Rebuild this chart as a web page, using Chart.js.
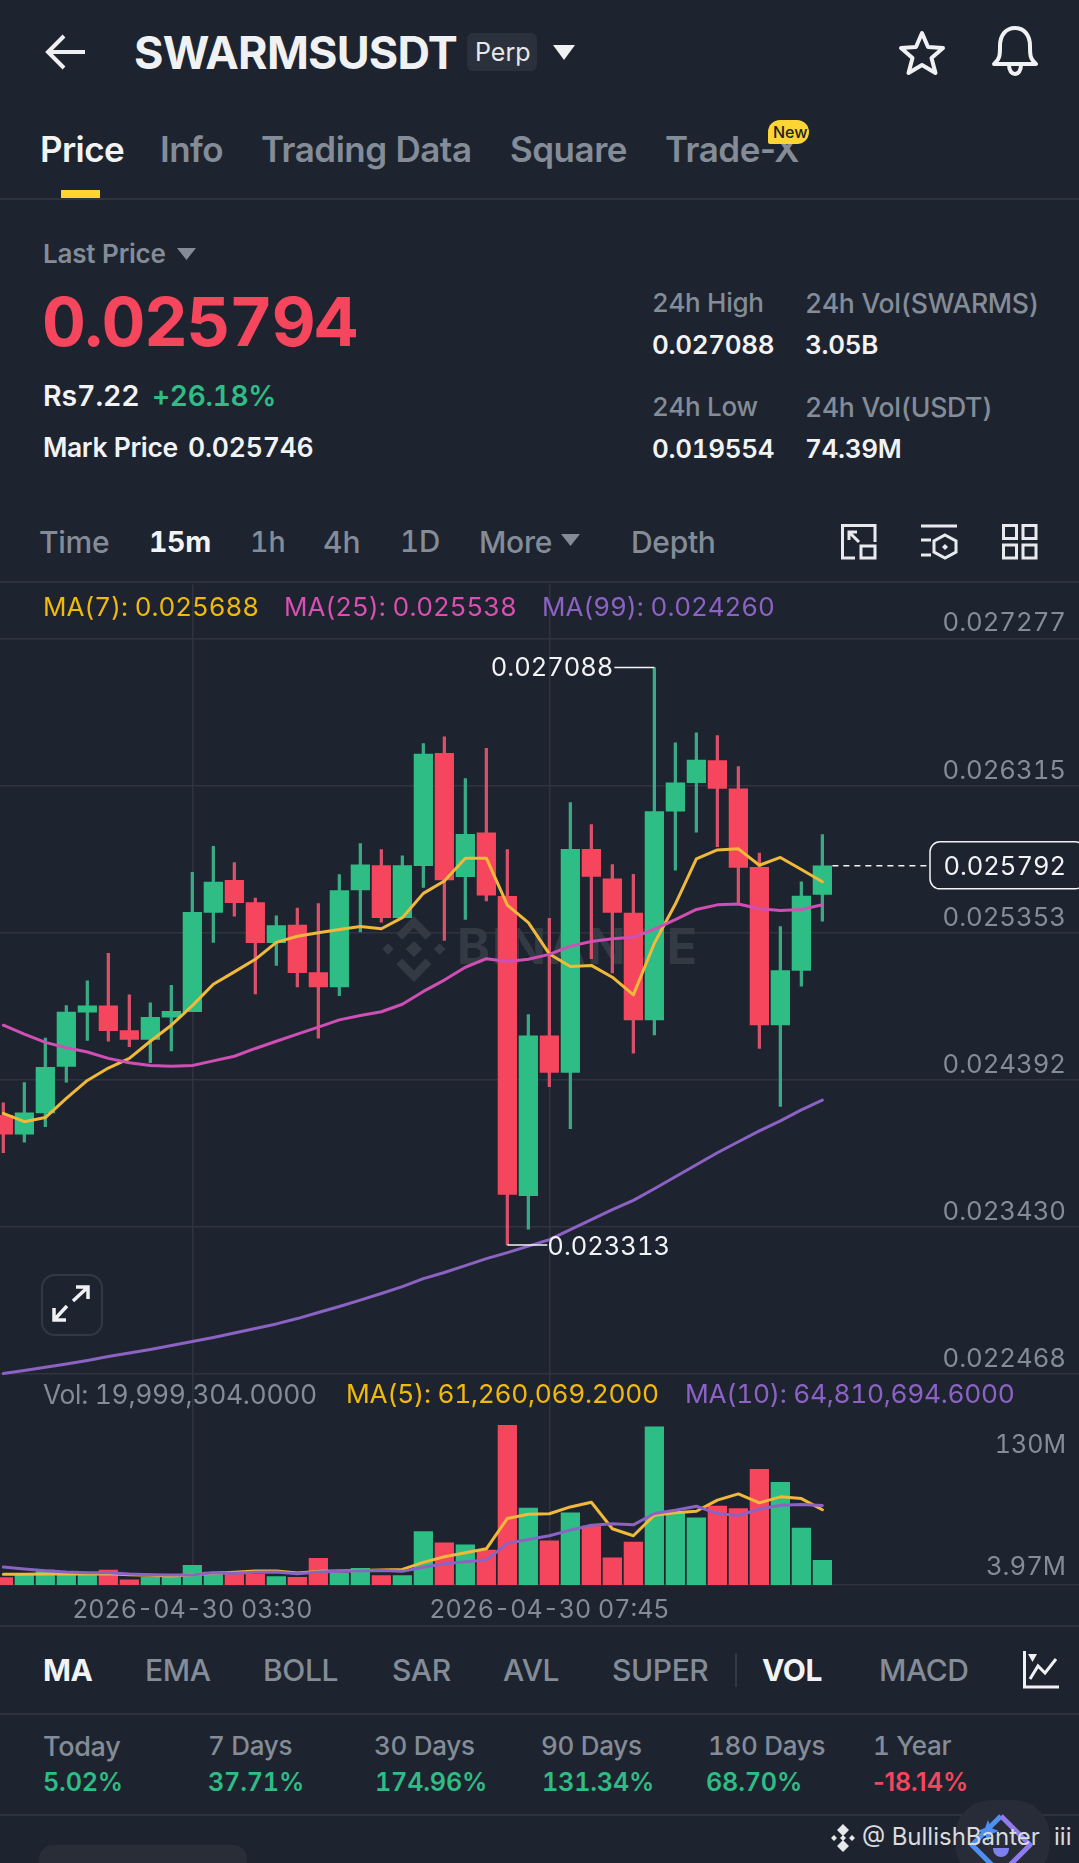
<!DOCTYPE html>
<html><head><meta charset="utf-8">
<script src="https://cdn.jsdelivr.net/npm/chart.js@4"></script>
<style>
html,body{margin:0;padding:0;background:#1e242f;}
body{width:1079px;height:1863px;position:relative;overflow:hidden;font-family:Inter,"Noto Sans",sans-serif;color:#fff;font-variant-numeric:tabular-nums;}
.t{position:absolute;white-space:nowrap;transform:translateY(-50%);line-height:1;}
.g{color:#848c98}.w{color:#f2f3f5}.m{font-weight:500}.b{font-weight:700}.sb{font-weight:600}
.up{color:#2ebd85}.dn{color:#f6465d}
.hl{position:absolute;left:0;width:1079px;height:1.5px;background:#2e333d;}
canvas{position:absolute;left:0;top:582px;}
svg{position:absolute;overflow:visible}
</style></head><body>

<svg style="left:45px;top:34px" width="42" height="36" fill="none" stroke="#eef0f2" stroke-width="4"><path d="M40 18H3M19 2L3 18l16 16"/></svg>
<div class="t b" style="left:134px;top:52px;font-size:45px;letter-spacing:-.8px;color:#f0f1f3">SWARMSUSDT</div>
<div style="position:absolute;left:467px;top:33px;width:70px;height:38px;background:#2b313c;border-radius:6px"></div>
<div class="t" style="left:475px;top:52px;font-size:25px;color:#e6e8ea">Perp</div>
<svg style="left:553px;top:45px" width="22" height="15"><path d="M0 0H22L11 15Z" fill="#f0f1f3"/></svg>
<svg style="left:899px;top:30px" width="46" height="46" fill="none" stroke="#f0f1f3" stroke-width="4" stroke-linejoin="round"><path d="M23 3l6 14 15 1-11.5 10 4 15L23 35 9.500 43l4-15L2 18l15-1z"/></svg>
<svg style="left:992px;top:25px" width="46" height="52" fill="none" stroke="#f0f1f3" stroke-width="4" stroke-linejoin="round"><path d="M2 39c6-5 6-9 6-18C8 10 14 3 23 3s15 7 15 18c0 9 0 13 6 18zM17 40c0 12 12 12 12 0"/></svg>

<div class="t sb w" style="left:40px;top:149px;font-size:35px;letter-spacing:-.6px">Price</div>
<div class="t sb g" style="left:160px;top:149px;font-size:35px;letter-spacing:-.5px">Info</div>
<div class="t sb g" style="left:261px;top:149px;font-size:35px;letter-spacing:-.5px">Trading Data</div>
<div class="t sb g" style="left:510px;top:149px;font-size:35px;letter-spacing:-.5px">Square</div>
<div class="t sb g" style="left:665px;top:149px;font-size:35px;letter-spacing:-.5px;font-variant-numeric:normal">Trade-X</div>
<div style="position:absolute;left:768px;top:120px;width:41px;height:24px;background:#fcd535;border-radius:12px 12px 12px 2px"></div>
<div class="t m" style="left:773px;top:132px;font-size:16px;color:#1e2329">New</div>
<div style="position:absolute;left:61px;top:190px;width:39px;height:8px;background:#fcd535"></div>
<div class="hl" style="top:198px"></div>

<div class="t sb g" style="left:43px;top:254px;font-size:26px;letter-spacing:-.2px">Last Price</div>
<svg style="left:177px;top:248px" width="19" height="12"><path d="M0 0H19L9.500 12Z" fill="#848c98"/></svg>
<div class="t b dn" style="left:42px;top:321px;font-size:68px;letter-spacing:-1.4px">0.025794</div>
<div class="t sb w" style="left:43px;top:396px;font-size:28.500px;letter-spacing:-.1px">Rs7.22</div>
<div class="t sb up" style="left:152px;top:396px;font-size:28px;letter-spacing:-.3px">+26.18%</div>
<div class="t sb w" style="left:43px;top:447px;font-size:26.500px;letter-spacing:-.4px">Mark Price</div>
<div class="t sb w" style="left:188px;top:447px;font-size:26.500px;letter-spacing:-.2px">0.025746</div>

<div class="t m g" style="left:652px;top:303px;font-size:26px;letter-spacing:-.3px">24h High</div>
<div class="t m g" style="left:805px;top:303px;font-size:26.600px;letter-spacing:-.3px">24h Vol(SWARMS)</div>
<div class="t sb w" style="left:652px;top:345px;font-size:26px;letter-spacing:-.3px">0.027088</div>
<div class="t sb w" style="left:805px;top:345px;font-size:26px;letter-spacing:-.3px">3.05B</div>
<div class="t m g" style="left:652px;top:407px;font-size:26px;letter-spacing:-.3px">24h Low</div>
<div class="t m g" style="left:805px;top:407px;font-size:26.600px;letter-spacing:-.3px">24h Vol(USDT)</div>
<div class="t sb w" style="left:652px;top:449px;font-size:26px;letter-spacing:-.3px">0.019554</div>
<div class="t sb w" style="left:805px;top:449px;font-size:26px;letter-spacing:-.3px">74.39M</div>

<div class="t m g" style="left:39px;top:542px;font-size:30px;letter-spacing:-.3px">Time</div>
<div class="t b w" style="left:149px;top:542px;font-size:28.500px;letter-spacing:-.3px">15m</div>
<div class="t m g" style="left:250px;top:542px;font-size:28.500px">1h</div>
<div class="t m g" style="left:323px;top:542px;font-size:30px">4h</div>
<div class="t m g" style="left:400px;top:542px;font-size:29.500px">1D</div>
<div class="t m g" style="left:479px;top:542px;font-size:30px;letter-spacing:-.3px">More</div>
<svg style="left:561px;top:534px" width="19" height="12"><path d="M0 0H19L9.500 12Z" fill="#848c98"/></svg>
<div class="t m g" style="left:631px;top:542px;font-size:30px;letter-spacing:-.3px">Depth</div>
<svg style="left:841px;top:524px" width="36" height="36" fill="none" stroke="#e8eaee" stroke-width="3"><path d="M14 34H1.500V1.500H34V18"/><rect x="20" y="22" width="14" height="12"/><path d="M8 8l10 10M8 16V8h8" stroke-width="3"/></svg>
<svg style="left:921px;top:524px" width="37" height="36" fill="none" stroke="#e8eaee" stroke-width="3"><path d="M0 2H36M0 16H10M0 31H10"/><path d="M24 11l11 6v11l-11 6-11-6V17z"/><path d="M24 20l3 3-3 3-3-3z" fill="#e8eaee" stroke="none"/></svg>
<svg style="left:1002px;top:524px" width="36" height="36" fill="none" stroke="#e8eaee" stroke-width="3"><rect x="1.500" y="1.500" width="13" height="13"/><rect x="21" y="1.500" width="13" height="13"/><rect x="1.500" y="21" width="13" height="13"/><rect x="21" y="21" width="13" height="13"/></svg>
<div class="hl" style="top:581px"></div>

<canvas id="c" width="1079" height="1043" style="width:1079px;height:1043px"></canvas>

<div class="t" style="left:43px;top:607px;font-size:26px;letter-spacing:-.1px;color:#f0b90b">MA(7): 0.025688</div>
<div class="t" style="left:284px;top:607px;font-size:26px;letter-spacing:-.1px;color:#d94fb2">MA(25): 0.025538</div>
<div class="t" style="left:542px;top:607px;font-size:26px;letter-spacing:-.1px;color:#8c62c4">MA(99): 0.024260</div>
<div class="t g" style="left:43px;top:1394px;font-size:26.400px;letter-spacing:-.3px">Vol: 19,999,304.0000</div>
<div class="t" style="left:346px;top:1394px;font-size:26.300px;letter-spacing:-.3px;color:#f0b90b">MA(5): 61,260,069.2000</div>
<div class="t" style="left:685px;top:1394px;font-size:26.300px;letter-spacing:-.3px;color:#8c62c4">MA(10): 64,810,694.6000</div>

<div style="position:absolute;left:41px;top:1274px;width:58px;height:58px;border:2px solid #333944;border-radius:14px"></div>
<svg style="left:52px;top:1285px" width="38" height="38" fill="none" stroke="#eef0f2" stroke-width="3.500"><path d="M21 16L36 2M24 2h12v12M15 21L2 35M14 35H2V23"/></svg>

<div class="hl" style="top:1625px"></div>
<div class="t b w" style="left:43px;top:1670px;font-size:30px;letter-spacing:-.4px">MA</div>
<div class="t m g" style="left:145px;top:1670px;font-size:30px;letter-spacing:-.4px">EMA</div>
<div class="t m g" style="left:263px;top:1670px;font-size:30px;letter-spacing:-.4px">BOLL</div>
<div class="t m g" style="left:392px;top:1670px;font-size:30px;letter-spacing:-.4px">SAR</div>
<div class="t m g" style="left:503px;top:1670px;font-size:30px;letter-spacing:-.4px">AVL</div>
<div class="t m g" style="left:612px;top:1670px;font-size:30px;letter-spacing:-.4px">SUPER</div>
<div style="position:absolute;left:735px;top:1653px;width:1.500px;height:34px;background:#333944"></div>
<div class="t b w" style="left:762px;top:1670px;font-size:30px;letter-spacing:-.4px">VOL</div>
<div class="t m g" style="left:879px;top:1670px;font-size:30px;letter-spacing:-.4px">MACD</div>
<svg style="left:1023px;top:1651px" width="37" height="38" fill="none" stroke="#f0f1f3" stroke-width="3"><path d="M1.500 0V36H36M7 28l8-13 7 7 11-14"/><path d="M5 3h9l-4.500 8z" fill="#f0f1f3" stroke="none"/></svg>
<div class="hl" style="top:1713px"></div>

<div class="t m g" style="left:43px;top:1746px;font-size:27px;letter-spacing:-.3px">Today</div>
<div class="t m g" style="left:208px;top:1746px;font-size:26px;letter-spacing:-.3px">7 Days</div>
<div class="t m g" style="left:374px;top:1746px;font-size:26px;letter-spacing:-.3px">30 Days</div>
<div class="t m g" style="left:541px;top:1746px;font-size:26px;letter-spacing:-.3px">90 Days</div>
<div class="t m g" style="left:708px;top:1746px;font-size:26px;letter-spacing:-.3px">180 Days</div>
<div class="t m g" style="left:873px;top:1746px;font-size:26px;letter-spacing:-.3px">1 Year</div>
<div class="t sb up" style="left:43px;top:1783px;font-size:25.200px;letter-spacing:-.2px">5.02%</div>
<div class="t sb up" style="left:208px;top:1783px;font-size:25.200px;letter-spacing:-.2px">37.71%</div>
<div class="t sb up" style="left:375px;top:1783px;font-size:25.200px;letter-spacing:-.2px">174.96%</div>
<div class="t sb up" style="left:542px;top:1783px;font-size:25.200px;letter-spacing:-.2px">131.34%</div>
<div class="t sb up" style="left:706px;top:1783px;font-size:25.200px;letter-spacing:-.2px">68.70%</div>
<div class="t sb dn" style="left:873px;top:1783px;font-size:25.200px;letter-spacing:-.2px;font-variant-numeric:normal">-18.14%</div>
<div class="hl" style="top:1814px"></div>
<div style="position:absolute;left:39px;top:1845px;width:208px;height:30px;background:#282d38;border-radius:14px"></div>

<div style="position:absolute;left:955px;top:1800px;width:95px;height:80px;background:#272c38;border-radius:36px"></div>
<svg style="left:968px;top:1812px" width="66" height="60" fill="none" stroke-width="5" stroke-linejoin="round"><path d="M33 4L4 33l29 29" stroke="#4f8ff0"/><path d="M33 4l29 29-29 29" stroke="#8f7af0"/><path d="M20 8l3 8 8 3-8 3-3 8-3-8-8-3 8-3z" fill="#4f8ff0" stroke="none"/><path d="M25 36h16c0 12-16 12-16 0z" fill="#7f80f0" stroke="none"/></svg>
<svg style="left:829px;top:1824px" width="28" height="28" fill="#e6e8ea"><path d="M14 0l6 6-6 6-6-6zM14 16l6 6-6 6-6-6zM2 14l3-3 3 3-3 3zM20 14l3-3 3 3-3 3z"/><path d="M14 11l3 3-3 3-3-3z"/></svg>
<div class="t" style="left:862px;top:1837px;font-size:24px;color:#d9dbdf">@ BullishBanter</div>
<div class="t" style="left:1054px;top:1837px;font-size:24px;color:#d9dbdf">iii</div>

<script>
// ---- price candles ----
const opens  = [0.024160,0.024037,0.024177,0.024480,0.024836,0.024876,0.024715,0.024657,0.024803,0.024838,0.025488,0.025698,0.025551,0.025290,0.025404,0.025094,0.025001,0.025635,0.025793,0.025453,0.025793,0.026527,0.025721,0.026008,0.025593,0.023636,0.024680,0.024442,0.025900,0.025707,0.025483,0.024785,0.026150,0.026336,0.026480,0.026296,0.025782,0.024752,0.025108,0.025605];
const closes = [0.024037,0.024177,0.024475,0.024836,0.024876,0.024715,0.024657,0.024801,0.024841,0.025488,0.025686,0.025551,0.025290,0.025402,0.025094,0.025001,0.025630,0.025798,0.025453,0.025793,0.026522,0.025700,0.025998,0.025600,0.023643,0.024680,0.024442,0.025900,0.025723,0.025488,0.024785,0.026147,0.026334,0.026483,0.026299,0.025782,0.024752,0.025108,0.025595,0.025792];
const highs  = [0.024242,0.024375,0.024666,0.024878,0.025041,0.025220,0.024948,0.024897,0.025011,0.025749,0.025919,0.025814,0.025581,0.025465,0.025516,0.025546,0.025735,0.025938,0.025898,0.025858,0.026592,0.026636,0.026362,0.026560,0.025898,0.024820,0.025449,0.026206,0.026061,0.025800,0.025737,0.027088,0.026597,0.026662,0.026644,0.026441,0.025875,0.025395,0.025688,0.025996];
const lows   = [0.023916,0.023986,0.024086,0.024377,0.024650,0.024645,0.024610,0.024505,0.024582,0.024838,0.025292,0.025463,0.024955,0.025141,0.025001,0.024666,0.024943,0.025360,0.025423,0.025453,0.025651,0.025304,0.025442,0.025563,0.023313,0.023417,0.024349,0.024074,0.025185,0.025092,0.024568,0.024687,0.025763,0.026012,0.025917,0.025542,0.024598,0.024219,0.025006,0.025430];
// ---- price moving averages ----
const ma7  = [0.024174,0.024119,0.024146,0.024272,0.024389,0.024470,0.024533,0.024645,0.024750,0.024878,0.025018,0.025099,0.025181,0.025292,0.025332,0.025355,0.025376,0.025395,0.025381,0.025453,0.025612,0.025693,0.025842,0.025842,0.025535,0.025421,0.025216,0.025134,0.025141,0.025064,0.024948,0.025286,0.025542,0.025838,0.025896,0.025903,0.025796,0.025847,0.025768,0.025688];
const ma25 = [0.024750,0.024692,0.024638,0.024603,0.024575,0.024533,0.024505,0.024487,0.024482,0.024487,0.024517,0.024547,0.024598,0.024645,0.024692,0.024738,0.024785,0.024813,0.024838,0.024887,0.024971,0.025045,0.025129,0.025185,0.025167,0.025181,0.025213,0.025267,0.025297,0.025316,0.025325,0.025378,0.025441,0.025507,0.025537,0.025542,0.025511,0.025500,0.025507,0.025538];
const ma99 = [0.022473,0.022493,0.022513,0.022535,0.022558,0.022584,0.022607,0.022630,0.022656,0.022682,0.022708,0.022738,0.022767,0.022797,0.022832,0.022872,0.022911,0.022953,0.022996,0.023041,0.023093,0.023133,0.023178,0.023224,0.023263,0.023306,0.023348,0.023413,0.023479,0.023544,0.023605,0.023681,0.023759,0.023838,0.023916,0.023988,0.024059,0.024125,0.024196,0.024260];
// ---- volume (millions) ----
const volumes = [5.96,7.85,12.2,8.9,8.9,12.2,4.3,6.2,6.2,16.0,10.6,8.9,8.9,6.8,6.2,21.7,9.5,13.5,7.6,7.6,43.6,34.4,32.8,28.4,130,62.6,36,58.8,47.9,22.2,34.9,128.9,58.8,54.7,64.2,62.3,94.2,83.7,46.3,20.0];
const volMa5  = [8.67,8.67,8.94,8.94,8.94,9.2,8.4,7.85,7.3,8.4,9.5,10.3,11.4,11.4,9.75,11.1,11.4,11.9,12.2,12.7,18.4,23,26.3,29.5,54.2,57.7,58,63.6,67.4,45.8,40.1,56.9,58.8,60.1,69.1,74.2,66.9,71.8,70.4,61.26];
const volMa10 = [14.6,13,11.6,10.6,10,10,8.9,8.4,8.1,8.1,10,9.5,10.3,10.6,9.2,10.6,11.1,11.6,11.9,11.1,14.4,17.3,19,20.3,33.9,37.1,40.1,44.7,48.7,49.8,49,58.2,60.9,64.2,58.2,56.6,61.7,65,65.5,64.81];
// ---- axes ----
const priceTicks = [0.027277,0.026315,0.025353,0.024392,0.023430,0.022468];
const volTopTick = [130];
const volLowTick = [3.97];
const volTickLabels = {130:'130M',3.97:'3.97M'};
const timeTickIndex = [9,26];
const timeTickLabels = ['2026-04-30 03:30','2026-04-30 07:45'];
const highLabel = 0.027088, highIndex = 31, lowLabel = 0.023313, lowIndex = 24, lastPrice = 0.025792;

const UP='#2ebd85', DN='#f6465d', UPW='#3aa985', DNW='#d9506a', GRID='#2e333d', TICK='#848c98', BG='#1e242f';
const FONT='Inter, "Noto Sans", sans-serif';
const col = (i)=> closes[i]>=opens[i]?UP:DN;
const wcol= (i)=> closes[i]>=opens[i]?UPW:DNW;
const idx = opens.map((_,i)=>i);
const line=(label,arr,axis,color,w)=>({type:'line',label,yAxisID:axis,order:1,data:arr.map((v,i)=>({x:i,y:v})),borderColor:color,borderWidth:w,pointRadius:0,tension:0,borderJoinStyle:'round',borderCapStyle:'round'});
const fixW = s=>{s.width=0};
function drawLogo(ctx,cx,cy,r,color){
  ctx.save();ctx.fillStyle=color;ctx.strokeStyle=color;
  const d=(x,y,s)=>{ctx.beginPath();ctx.moveTo(x,y-s);ctx.lineTo(x+s,y);ctx.lineTo(x,y+s);ctx.lineTo(x-s,y);ctx.closePath();ctx.fill();};
  d(cx,cy,r*.24);d(cx-r*.76,cy,r*.17);d(cx+r*.76,cy,r*.17);
  ctx.lineWidth=r*.24;ctx.lineJoin='miter';
  ctx.beginPath();ctx.moveTo(cx-r*.43,cy-r*.36);ctx.lineTo(cx,cy-r*.8);ctx.lineTo(cx+r*.43,cy-r*.36);ctx.stroke();
  ctx.beginPath();ctx.moveTo(cx-r*.43,cy+r*.36);ctx.lineTo(cx,cy+r*.8);ctx.lineTo(cx+r*.43,cy+r*.36);ctx.stroke();
  ctx.restore();
}
const overlay={id:'overlay',
  beforeDatasetsDraw(c){
    const {ctx,scales:{x,y}}=c;
    const py=y.getPixelForValue(0.025248), px=x.getPixelForValue(19.55);
    drawLogo(ctx,px,py,34,'#343a44');
    ctx.save();ctx.fillStyle='#343a44';ctx.font='700 50px '+FONT;ctx.textBaseline='middle';ctx.letterSpacing='2px';
    ctx.fillText('BINANCE',457,py);ctx.restore();
  },
  afterDatasetsDraw(c){
    const {ctx,scales:{x,y}}=c;
    ctx.save();ctx.font='25.5px '+FONT;ctx.fillStyle='#f2f3f5';ctx.strokeStyle='#f2f3f5';ctx.lineWidth=1.5;ctx.textBaseline='middle';
    const hy=y.getPixelForValue(highLabel),hx=x.getPixelForValue(highIndex);
    ctx.beginPath();ctx.moveTo(hx,hy);ctx.lineTo(hx-40,hy);ctx.stroke();
    ctx.textAlign='right';ctx.fillText(highLabel.toFixed(6),hx-41,hy+1);
    const ly=y.getPixelForValue(lowLabel),lx=x.getPixelForValue(lowIndex);
    ctx.beginPath();ctx.moveTo(lx,ly);ctx.lineTo(lx+40,ly);ctx.stroke();
    ctx.textAlign='left';ctx.fillText(lowLabel.toFixed(6),lx+40,ly+2);
    const ey=y.getPixelForValue(lastPrice),ex=x.getPixelForValue(39)+10;
    ctx.setLineDash([6,5]);ctx.beginPath();ctx.moveTo(ex,ey);ctx.lineTo(930,ey);ctx.stroke();ctx.setLineDash([]);
    ctx.fillStyle=BG;ctx.beginPath();ctx.roundRect(930,ey-24,155,47,10);ctx.fill();ctx.stroke();
    ctx.fillStyle='#f2f3f5';ctx.textAlign='right';ctx.fillText(lastPrice.toFixed(6),1066,ey+1);
    ctx.restore();
  }};

new Chart(document.getElementById('c'),{
  type:'bar',
  data:{datasets:[
    {label:'Wick',yAxisID:'y',order:6,grouped:false,barThickness:2.6,data:idx.map(i=>({x:i,y:[lows[i],highs[i]]})),backgroundColor:idx.map(wcol)},
    {label:'Body',yAxisID:'y',order:5,grouped:false,barThickness:18.6,data:idx.map(i=>({x:i,y:[opens[i],closes[i]]})),backgroundColor:idx.map(col)},
    {label:'Volume',yAxisID:'vol',order:5,grouped:false,barThickness:18.6,data:idx.map(i=>({x:i,y:[0,volumes[i]]})),backgroundColor:idx.map(col)},
    line('MA(99)',ma99,'y','#8c62c4',3),
    line('MA(25)',ma25,'y','#cf4fb4',3),
    line('MA(7)',ma7,'y','#f0b93a',3),
    line('MA(10)',volMa10,'vol','#8c62c4',3),
    line('MA(5)',volMa5,'vol','#f0b93a',3)
  ]},
  options:{
    responsive:false,animation:false,devicePixelRatio:1,
    layout:{padding:0,autoPadding:false},
    plugins:{legend:{display:false},tooltip:{enabled:false}},
    scales:{
      x:{type:'linear',min:-0.1587,max:51.22,offset:false,
        afterBuildTicks:s=>{s.ticks=timeTickIndex.map(v=>({value:v}))},
        afterFit:s=>{s.height=40},
        grid:{color:GRID,lineWidth:1.5,drawTicks:false,offset:false},border:{color:GRID,width:1.5},
        ticks:{autoSkip:false,maxRotation:0,padding:10,color:TICK,font:{family:FONT,size:25},
          callback:v=>timeTickLabels[timeTickIndex.indexOf(v)]}},
      y:{position:'right',min:0.021090,max:0.027632,
        afterBuildTicks:s=>{s.ticks=priceTicks.map(v=>({value:v}))},afterFit:fixW,
        grid:{color:GRID,lineWidth:1.5,drawTicks:false},border:{display:false},
        ticks:{mirror:true,padding:-13,labelOffset:-15,color:TICK,font:{family:FONT,size:25.7},callback:v=>v.toFixed(6)}},
      vol:{position:'right',min:0,max:814.94,
        afterBuildTicks:s=>{s.ticks=volTopTick.map(v=>({value:v}))},afterFit:fixW,
        grid:{display:false,drawTicks:false},border:{display:false},
        ticks:{mirror:true,padding:-13,labelOffset:20,color:TICK,font:{family:FONT,size:25},callback:v=>volTickLabels[v]}},
      volLow:{position:'right',min:0,max:814.94,
        afterBuildTicks:s=>{s.ticks=volLowTick.map(v=>({value:v}))},afterFit:fixW,
        grid:{display:false,drawTicks:false},border:{display:false},
        ticks:{mirror:true,padding:-13,labelOffset:-13,color:TICK,font:{family:FONT,size:25.7},callback:v=>volTickLabels[v]}}
    }
  },
  plugins:[overlay]
});
</script>
</body></html>
